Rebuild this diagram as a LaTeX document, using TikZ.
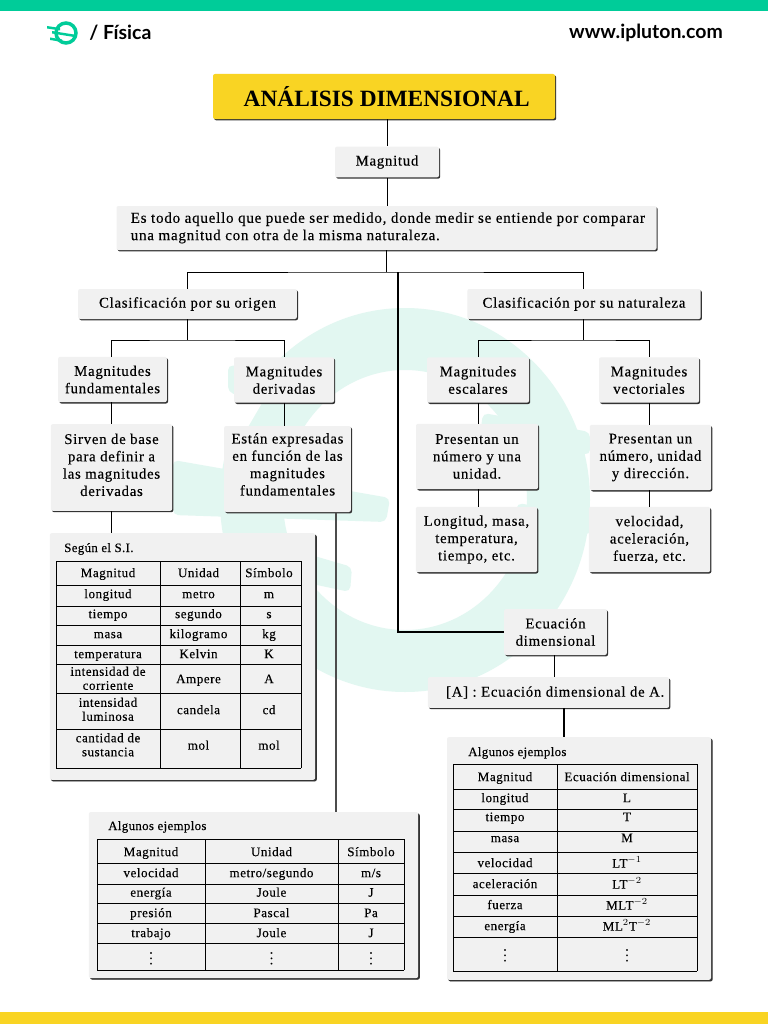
\documentclass[tikz,border=0pt]{standalone}
\usepackage{fontspec}
\setmainfont{Liberation Serif}
\newfontfamily\headfont{Lato}
\usetikzlibrary{positioning}
\definecolor{plutongreen}{RGB}{0,204,153}
\definecolor{plutonyellow}{RGB}{249,212,35}
\definecolor{plutonmint}{RGB}{226,247,241}
\definecolor{boxgray}{RGB}{241,241,241}
\newcommand{\upfix}{\\[-9pt]\rule{0pt}{1pt}}
\tikzset{
  x=0.75pt, y=-0.75pt,
  shadowbox/.style={rectangle, rounded corners=1.5pt, fill=boxgray, align=center,
    inner sep=0pt, font=\fontsize{11.1}{13}\selectfont\addfontfeature{LetterSpace=5,FakeBold=0.25},
    preaction={fill=black!80, transform canvas={xshift=0.9pt, yshift=-1pt}}},
  panelbox/.style={shadowbox, preaction={fill=black!80, transform canvas={xshift=1.2pt, yshift=-1.2pt}}},
  cell/.style={align=center, inner sep=0pt, yshift=-1pt, execute at begin node=\strut, execute at end node=\strut,
    font=\fontsize{9.8}{10.5}\selectfont\addfontfeature{LetterSpace=4,FakeBold=0.25}},
  caption/.style={anchor=west, inner sep=0pt, yshift=-0.7pt, font=\fontsize{9.6}{10}\selectfont\addfontfeature{LetterSpace=3,FakeBold=0.25}},
  link/.style={draw=black, line width=0.75pt},
  greylink/.style={draw=black!70, line width=1pt},
  thicklink/.style={draw=black, line width=1.3pt},
  tablerule/.style={draw=black, line width=0.65pt}
}
\begin{document}
\begin{tikzpicture}
  \useasboundingbox (0,0) rectangle (768,1024);
  % fondo
  \fill[white] (0,0) rectangle (768,1024);
  \fill[plutongreen] (0,0) rectangle (768,11);
  \fill[plutonyellow] (0,1012) rectangle (768,1024);
  % marca de agua
  \fill[plutonmint, even odd rule] (405,500) ellipse [x radius=185, y radius=192] (405,500) ellipse [x radius=122, y radius=130];
  \fill[white] (170,395) -- (262,403) -- (248,427) -- (235,448) -- (170,448) -- cycle;
  \fill[plutonmint, rounded corners=4pt] (228,365) -- (300,372) -- (262,403) -- (228,392) -- cycle;
  \fill[plutonmint, rounded corners=4pt] (173,460) -- (390,498) -- (386,522) -- (173,515) -- cycle;
  \fill[plutonmint, rounded corners=4pt] (270,543) -- (352,567) -- (350,592) -- (270,575) -- cycle;
  \fill[plutonmint, rounded corners=4pt] (483,413) -- (590,432) -- (590,455) -- (480,435) -- cycle;
  \fill[plutonmint, rounded corners=4pt] (517,503) -- (590,515) -- (590,535) -- (515,525) -- cycle;
  % logo
  \draw[plutongreen, line width=2.6pt] (66,33) circle (10);
  \fill[plutongreen] (47,26) -- (60,28) -- (60,30.5) -- (47,28.5) -- cycle;
  \fill[plutongreen] (52,31) -- (74,34.5) -- (74,37) -- (52,33.5) -- cycle;
  \fill[plutongreen] (50,37.5) -- (62,39.5) -- (62,42) -- (50,40) -- cycle;
  \node[inner sep=0pt, anchor=west, font=\headfont\bfseries\fontsize{14.6}{17}\selectfont] (area) at (89,33) {/ Física};
  \node[inner sep=0pt, anchor=east, font=\headfont\bfseries\fontsize{14.6}{17}\selectfont] (web) at (723,33) {www.ipluton.com};
  % cajas
  \node[shadowbox, fill=plutonyellow, minimum width=256.5pt, minimum height=33.75pt, font=\bfseries\fontsize{17.5}{20}\selectfont] (titulo) at (384,96.5) {\hspace*{4pt}ANÁLISIS DIMENSIONAL};
  \node[shadowbox, minimum width=78pt, minimum height=23pt] (magnitud) at (387,162) {Magnitud};
  \node[shadowbox, minimum width=405pt, minimum height=33pt, font=\fontsize{11.3}{13}\selectfont\addfontfeature{LetterSpace=5,FakeBold=0.25}] (definicion) at (386.5,228)
    {\hspace*{2pt}\begin{tabular}{@{}l@{}}Es todo aquello que puede ser medido, donde medir se entiende por comparar\\una magnitud con otra de la misma naturaleza.\end{tabular}};
  \node[shadowbox, minimum width=164pt, minimum height=22.5pt] (origen) at (187.5,304) {Clasificación por su origen};
  \node[shadowbox, minimum width=175pt, minimum height=22.5pt] (naturaleza) at (584,304) {Clasificación por su naturaleza};
  \node[shadowbox, minimum width=81.5pt, minimum height=34pt] (fund) at (112.5,379.5) {Magnitudes\\fundamentales};
  \node[shadowbox, minimum width=75pt, minimum height=34pt] (deriv) at (284,380) {Magnitudes\\derivadas};
  \node[shadowbox, minimum width=76.5pt, minimum height=34pt] (escal) at (478,380) {Magnitudes\\escalares};
  \node[shadowbox, minimum width=75pt, minimum height=34pt] (vect) at (649,380) {Magnitudes\\vectoriales};
  \node[shadowbox, minimum width=91pt, minimum height=65pt] (sirven) at (111.5,467.5) {Sirven de base\\para definir a\\las magnitudes\\derivadas\upfix};
  \node[shadowbox, minimum width=95pt, minimum height=64.5pt] (estan) at (287.5,469) {Están expresadas\\en función de las\\magnitudes\\fundamentales\\[-6pt]\rule{0pt}{1pt}};
  \node[shadowbox, minimum width=91.5pt, minimum height=49pt] (pres1) at (477,456.5) {Presentan un\\número y una\\unidad.};
  \node[shadowbox, minimum width=91pt, minimum height=49pt] (pres2) at (650.5,457.5) {Presentan un\\número, unidad\\y dirección.};
  \node[shadowbox, minimum width=91pt, minimum height=49pt] (ejesc) at (476.5,539.5) {Longitud, masa,\\temperatura,\\tiempo, etc.};
  \node[shadowbox, minimum width=91pt, minimum height=49pt] (ejvect) at (649.5,539.5) {velocidad,\\aceleración,\\fuerza, etc.};
  \node[shadowbox, minimum width=77pt, minimum height=34.5pt] (ecuacion) at (555.5,632) {Ecuación\\dimensional};
  \node[shadowbox, minimum width=181pt, minimum height=23pt] (defa) at (548.5,692.5) {\hspace*{10pt}[A] : Ecuación dimensional de A.};
  \node[panelbox, minimum width=199pt, minimum height=185pt] (panelsi) at (182.5,656.5) {};
  \node[panelbox, minimum width=247pt, minimum height=124.5pt] (panelej) at (253.5,895) {};
  \node[panelbox, minimum width=198pt, minimum height=182pt] (paneleq) at (579,858.5) {};
  \coordinate (cruce) at (386,272);
  \coordinate (crucea) at (187,340);
  \coordinate (cruceb) at (583,340);
  \coordinate (ramasi) at (398,272);
  \coordinate (ramaej) at (336,512);
  \coordinate (ramaec) at (554,655);
  \coordinate (ramaeq) at (564,708);
  % lineas del arbol
  \draw[link] (titulo.south -| magnitud) -- (magnitud.north);
  \draw[link] (magnitud.south) -- (definicion.north -| magnitud);
  \draw[link] (definicion.south -| cruce) -- (cruce);
  \draw[link] (origen.north -| crucea) |- (cruce) -| (naturaleza.north -| cruceb);
  \draw[link] (origen.south -| crucea) -- (crucea);
  \draw[link] (fund.north -| sirven) |- (crucea) -| (deriv.north);
  \draw[link] (naturaleza.south -| cruceb) -- (cruceb);
  \draw[link] (escal.north) |- (cruceb) -| (vect.north);
  \draw[link] (fund.south -| sirven) -- (sirven.north);
  \draw[link] (deriv.south) -- (estan.north -| deriv);
  \draw[link] (escal.south) -- (pres1.north -| escal);
  \draw[link] (vect.south) -- (pres2.north -| vect);
  \draw[link] (pres1.south -| escal) -- (ejesc.north -| escal);
  \draw[link] (pres2.south -| vect) -- (ejvect.north -| vect);
  \draw[link] (sirven.south) -- (panelsi.north -| sirven);
  \draw[greylink] (ramaej) -- (panelej.north -| ramaej);
  \draw[thicklink] (ramasi) |- (ecuacion.west);
  \draw[link] (ramaec) -- (defa.north -| ramaec);
  \draw[thicklink] (ramaeq) -- (paneleq.north -| ramaeq);
  % tabla S.I.
  \node[caption] (capsi) at (64,548) {Según el S.I.};
  \foreach \y in {561,585,606,625,645,664,693,729,768} \draw[tablerule] (56,\y) -- (301,\y);
  \foreach \x in {56,160,240,301} \draw[tablerule] (\x,561) -- (\x,768);
  \foreach \i/\y/\a/\b/\c in {1/573/Magnitud/Unidad/Símbolo,2/594/longitud/metro/m,3/614/tiempo/segundo/s,
    4/634/masa/kilogramo/kg,5/654/temperatura/Kelvin/K,6/679/{intensidad de\\corriente}/Ampere/A,
    7/710/{intensidad\\luminosa}/candela/cd,8/745.5/{cantidad de\\sustancia}/mol/mol}{
    \node[cell] (si\i a) at (108,\y) {\a};
    \node[cell] (si\i b) at (198.5,\y) {\b};
    \node[cell] (si\i c) at (269,\y) {\c};
  }
  % tabla de ejemplos
  \node[caption] (capej) at (108,826) {Algunos ejemplos};
  \foreach \y in {839,863,884,903,923,943,970} \draw[tablerule] (97,\y) -- (404,\y);
  \foreach \x in {97,205,338,404} \draw[tablerule] (\x,839) -- (\x,970);
  \foreach \i/\y/\a/\b/\c in {1/852/Magnitud/Unidad/Símbolo,2/873/velocidad/{metro/segundo}/{m/s},
    3/892.5/energía/Joule/J,4/913/presión/Pascal/Pa,5/933/trabajo/Joule/J,6/955/$\vdots$/$\vdots$/$\vdots$}{
    \node[cell] (ej\i a) at (151,\y) {\a};
    \node[cell] (ej\i b) at (271.5,\y) {\b};
    \node[cell] (ej\i c) at (371,\y) {\c};
  }
  % tabla de ecuaciones
  \node[caption] (capeq) at (468,752) {Algunos ejemplos};
  \foreach \y in {764,789,809,831,852,873,895,916,937,971} \draw[tablerule] (453,\y) -- (697,\y);
  \foreach \x in {453,557,697} \draw[tablerule] (\x,764) -- (\x,971);
  \foreach \i/\y/\a/\b in {1/777/Magnitud/Ecuación dimensional,2/798/longitud/L,3/817/tiempo/T,4/838/masa/M,
    5/863/velocidad/LT$^{-1}$,6/884/aceleración/LT$^{-2}$,7/905/fuerza/MLT$^{-2}$,8/926/energía/ML$^{2}$T$^{-2}$,
    9/952/$\vdots$/$\vdots$}{
    \node[cell] (eq\i a) at (505,\y) {\a};
    \node[cell] (eq\i b) at (627,\y) {\b};
  }
\end{tikzpicture}
\end{document}
